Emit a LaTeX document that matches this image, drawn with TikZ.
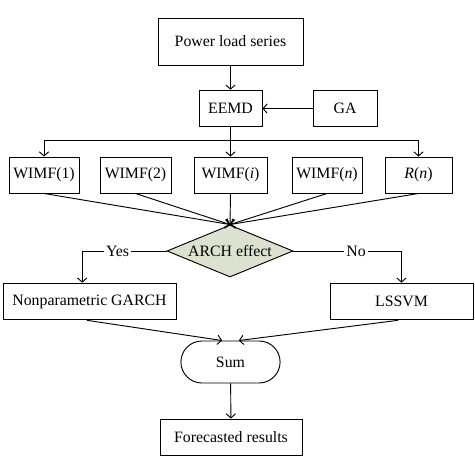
\documentclass[tikz,border=0pt]{standalone}
\usepackage{fontspec}
\setmainfont{Liberation Serif}
\usetikzlibrary{arrows.meta,shapes.geometric,shapes.misc}
\definecolor{archfill}{HTML}{DDE2D0}

\begin{document}
\begin{tikzpicture}[x=0.03cm,y=-0.03cm,
every node/.style={font=\fontsize{13.5}{15}\selectfont},
box/.style={draw,line width=0.8pt,minimum height=1.08cm,inner sep=0pt},
link/.style={line width=0.8pt,->,>={Straight Barb[length=3.5pt,width=8pt]}}]
\useasboundingbox (0,0) rectangle (474,474);
\def\h{1.1cm}
%top part
\node[box,minimum width=4.35cm,minimum height=1.41cm](pls) at (230.5,41.5) {Power load series};
\node[box,minimum width=1.89cm,minimum height=\h](eemd) at (230.5,108.5) {EEMD};
\node[box,minimum width=1.92cm,minimum height=\h](ga) at (345,108.5) {GA};

%components
\node[box,minimum width=2.1cm](w1) at (44,175) {WIMF(1)};
\node[box,minimum width=2.13cm](w2) at (135.5,175) {WIMF(2)};
\node[box,minimum width=2.19cm](wi) at (230.5,175) {WIMF(\textit{i})};
\node[box,minimum width=2.1cm](wn) at (327,175) {WIMF(\textit{n})};
\node[box,minimum width=2.01cm](rn) at (418.5,175) {\textit{R}(\textit{n})};

%decision
\node[diamond,draw,line width=0.8pt,fill=archfill,aspect=2.42,minimum width=3.78cm,minimum height=1.56cm,inner sep=0pt](arch) at (230,251) {ARCH effect};
\node[box,minimum width=5.19cm,minimum height=\h](garch) at (89.5,301.5) {Nonparametric GARCH};
\node[box,minimum width=4.29cm,minimum height=\h](lssvm) at (401.5,301.5) {LSSVM};
\node[rounded rectangle,draw,line width=0.8pt,minimum width=3.21cm,minimum height=1.26cm](sum) at (230.5,362) {Sum};
\node[box,minimum width=4.26cm](res) at (231,437) {Forecasted results};

\draw[link] (pls) -- (eemd);
\draw[link] (ga) -- (eemd);
\coordinate(bus) at (230.5,140);
\draw[link] (eemd) -- (wi);
\draw[link] (bus) -| (w1.north);
\draw[link] (bus) -| (rn.north);

\foreach \x in {w1,w2,wi,wn,rn}{
	\draw[link] (\x.south) -- (arch.north);
}

\draw[link] (arch.west) -| ([xshift=-0.22cm]garch.north) node[pos=0.29,fill=white,inner sep=2pt]{Yes};
\draw[link] (arch.east) -| (lssvm.north) node[pos=0.29,fill=white,inner sep=2pt]{No};

\draw[link] ([xshift=-0.08cm]garch.south) -- ([xshift=-0.25cm]sum.north);
\draw[link] ([xshift=-0.1cm]lssvm.south) -- ([xshift=0.25cm]sum.north);
\draw[link] (sum) -- (res);
\end{tikzpicture}
\end{document}
